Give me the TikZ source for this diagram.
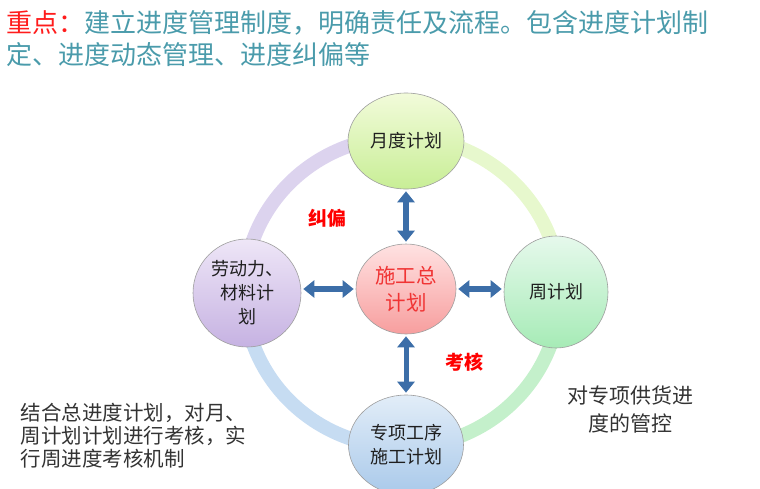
\documentclass[tikz,border=0pt]{standalone}
\usepackage{fontspec}
\newfontfamily\cjk{Noto Sans CJK SC}
\usetikzlibrary{shapes.geometric,arrows.meta}
\definecolor{keyred}{RGB}{255,28,28}
\definecolor{headteal}{RGB}{74,155,171}
\definecolor{arrowblue}{RGB}{60,110,168}
\definecolor{ringlav}{RGB}{220,211,238}
\definecolor{ringlime}{RGB}{231,248,205}
\definecolor{ringmint}{RGB}{196,240,203}
\definecolor{ringsky}{RGB}{198,220,242}
\definecolor{totred}{RGB}{240,52,52}
\begin{document}
\begin{tikzpicture}[x=1pt, y=1pt,
    plannode/.style={ellipse, draw=black!38, line width=0.6pt, inner sep=0pt,
                     align=center, text=black!88,
                     font=\cjk\fontsize{18}{24}\selectfont},
    ringarc/.style={line width=14pt},
    biarrow/.style={draw=arrowblue, line width=6.5pt,
                    {Triangle[width=17pt,length=11pt]}-{Triangle[width=17pt,length=11pt]},
                    shorten <=2pt, shorten >=2pt},
    tag/.style={font=\cjk\bfseries\fontsize{19}{22}\selectfont, text=red},
    note/.style={text=black!80, font=\cjk\fontsize{20.5}{23}\selectfont}
  ]
    \def\cx{402} \def\cy{-292} \def\rx{158} \def\ry{155}
    \useasboundingbox (0,0) rectangle (760,-488);

    \node[anchor=base west, align=left, text=headteal,
          font=\cjk\fontsize{26}{32}\selectfont] (head) at (3,-64)
      {{\color{keyred}重点：}建立进度管理制度，明确责任及流程。包含进度计划制\\
       定、进度动态管理、进度纠偏等};

    \draw[ringarc, draw=ringlav]  (\cx-\rx,\cy) arc[start angle=180, end angle=90, x radius=\rx, y radius=\ry];
    \draw[ringarc, draw=ringlime] (\cx,\cy+\ry) arc[start angle=90, end angle=0, x radius=\rx, y radius=\ry];
    \draw[ringarc, draw=ringmint] (\cx+\rx,\cy) arc[start angle=0, end angle=-90, x radius=\rx, y radius=\ry];
    \draw[ringarc, draw=ringsky]  (\cx,\cy-\ry) arc[start angle=-90, end angle=-180, x radius=\rx, y radius=\ry];

    \node[plannode, minimum width=116pt, minimum height=96pt,
          top color={rgb,255:red,242;green,251;blue,218},
          bottom color={rgb,255:red,200;green,238;blue,150}]
      (mon) at (406,-141) {月度计划};
    \node[plannode, minimum width=108pt, minimum height=108pt,
          top color={rgb,255:red,238;green,230;blue,247},
          bottom color={rgb,255:red,198;green,178;blue,226}]
      (lab) at (247,-293) {劳动力、\\材料计\\划};
    \node[plannode, minimum width=104pt, minimum height=112pt,
          top color={rgb,255:red,230;green,249;blue,236},
          bottom color={rgb,255:red,166;green,235;blue,182}]
      (wk) at (556,-292) {周计划};
    \node[plannode, minimum width=115pt, minimum height=100pt,
          top color={rgb,255:red,226;green,237;blue,248},
          bottom color={rgb,255:red,169;green,201;blue,234}]
      (spec) at (406,-445) {专项工序\\施工计划};
    \node[plannode, minimum width=100pt, minimum height=90pt, text=totred,
          font=\cjk\fontsize{20.5}{27}\selectfont,
          top color={rgb,255:red,255;green,226;blue,226},
          bottom color={rgb,255:red,247;green,158;blue,158}]
      (tot) at (406,-289) {施工总\\计划};

    \draw[biarrow] (mon.south) -- (tot.north);
    \draw[biarrow, line width=5pt] (tot.south) -- (spec.north);
    \draw[biarrow] (tot.west) -- (tot.west -| lab.east);
    \draw[biarrow] (tot.east) -- (tot.east -| wk.west);

    \node[tag] (fix) at (327,-218) {纠偏};
    \node[tag] (chk) at (464,-362) {考核};

    \node[note, anchor=base west, align=left] (left) at (17,-466)
      {结合总进度计划，对月、\\周计划计划进行考核，实\\行周进度考核机制};
    \node[note, anchor=base, align=center, font=\cjk\fontsize{21}{28}\selectfont]
      (right) at (630,-431) {对专项供货进\\度的管控};
  \end{tikzpicture}
\end{document}
